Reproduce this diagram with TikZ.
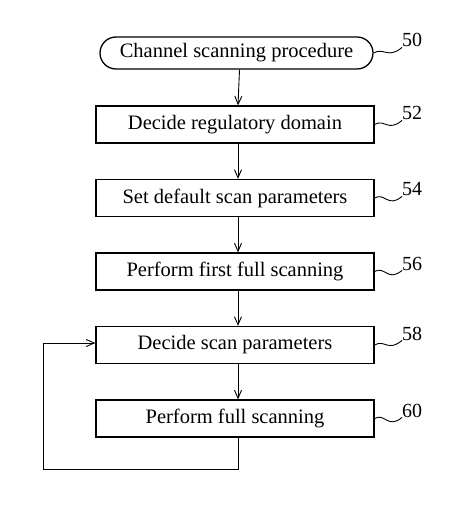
\documentclass[tikz,border=0pt]{standalone}
\usepackage{fontspec}
\setmainfont{Liberation Serif}
\usetikzlibrary{arrows.meta}

\begin{document}
\begin{tikzpicture}[x=1pt,y=1pt,yscale=-1,
	box/.style={draw,line width=1.3pt,minimum width=278pt,minimum height=37pt,inner sep=0pt,font=\fontsize{20.5}{24}\selectfont},
	startbox/.style={box,minimum width=273pt,minimum height=32pt,rounded corners=16pt},
	tag/.style={inner sep=0pt,font=\fontsize{20}{24}\selectfont},
	flow/.style={line width=0.9pt,-{Straight Barb[length=8pt,width=7pt]}},
	wave/.style={line width=0.9pt}]
	\useasboundingbox (0,0) rectangle (474,518);
	
	% Steps
	\node[startbox] (start) at (236.5,53) {Channel scanning procedure};
	\node[box] (d52) at (235,124.5) {Decide regulatory domain};
	\node[box] (d54) at (235,198) {Set default scan parameters};
	\node[box] (d56) at (235,271.5) {Perform first full scanning};
	\node[box] (d58) at (235,345) {Decide scan parameters};
	\node[box] (d60) at (235,418.5) {Perform full scanning};
	
	% Reference numerals
	\node[tag,anchor=base west] (n50) at (402,47) {50};
	\node[tag,anchor=base west] (n52) at (402,120) {52};
	\node[tag,anchor=base west] (n54) at (402,196) {54};
	\node[tag,anchor=base west] (n56) at (402,270) {56};
	\node[tag,anchor=base west] (n58) at (402,340) {58};
	\node[tag,anchor=base west] (n60) at (402,417) {60};
	\draw[wave] (start.east) .. controls ++(10,-6) and ++(-14,12) .. (n50.south west);
	\draw[wave] (d52.east) .. controls ++(10,-6) and ++(-14,12) .. (n52.south west);
	\draw[wave] (d54.east) .. controls ++(10,-6) and ++(-14,12) .. (n54.south west);
	\draw[wave] (d56.east) .. controls ++(10,-6) and ++(-14,12) .. (n56.south west);
	\draw[wave] (d58.east) .. controls ++(10,-6) and ++(-14,12) .. (n58.south west);
	\draw[wave] (d60.east) .. controls ++(10,-6) and ++(-14,12) .. (n60.south west);
	
	% Flow
	\draw[flow] ([xshift=3pt]start.south) -- ([xshift=3pt]d52.north);
	\draw[flow] ([xshift=3pt]d52.south) -- ([xshift=3pt]d54.north);
	\draw[flow] ([xshift=3pt]d54.south) -- ([xshift=3pt]d56.north);
	\draw[flow] ([xshift=3pt]d56.south) -- ([xshift=3pt]d58.north);
	\draw[flow] ([xshift=3pt]d58.south) -- ([xshift=3pt]d60.north);
	\coordinate (back) at (43,469);
	\draw[flow] ([xshift=3pt]d60.south) |- (back) |- ([yshift=-2pt]d58.west);
	
\end{tikzpicture}
\end{document}
